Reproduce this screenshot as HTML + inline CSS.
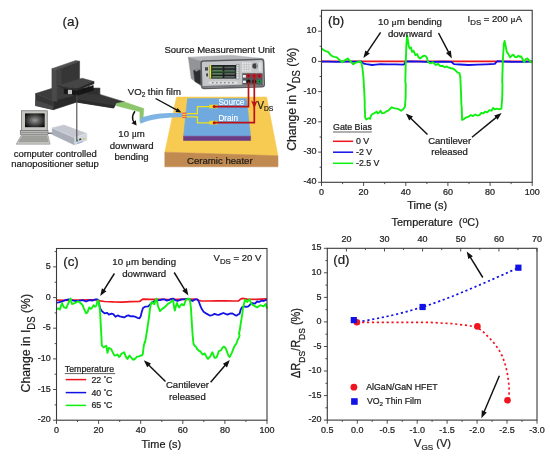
<!DOCTYPE html>
<html><head><meta charset="utf-8"><title>Figure</title>
<style>
html,body{margin:0;padding:0;background:#fff;}
body{width:550px;height:459px;overflow:hidden;}
svg{display:block;font-family:"Liberation Sans",Arial,Helvetica,sans-serif;}
text{stroke:#222;stroke-width:0.22px;paint-order:stroke;}
text.w{stroke:#fff;stroke-width:0.15px;}
</style></head><body>
<svg width="550" height="459" viewBox="0 0 550 459">
<rect x="0" y="0" width="550" height="459" fill="#ffffff"/>
<g id="panel-a">
<text transform="translate(62.6,26.4) scale(1.000,1)" font-size="13.50" text-anchor="start" fill="#1c1c1c" >(a)</text>
<polygon points="176.5,97.0 266.6,97.0 278.0,155.8 164.8,152.2" fill="#f7ca52" stroke="#f7ca52" stroke-width="0.5" stroke-linejoin="round"/>
<polygon points="164.8,152.2 278.0,155.8 278.0,166.8 164.8,166.8" fill="#c18a50" stroke="#c18a50" stroke-width="0.5" stroke-linejoin="round"/>
<polygon points="187.5,98.6 246.6,98.4 250.6,136.2 183.5,136.2" fill="#6fa9dd" stroke="#6fa9dd" stroke-width="0.5" stroke-linejoin="round"/>
<polygon points="183.5,136.2 250.6,136.2 250.6,140.5 183.5,140.5" fill="#6a3b86" stroke="#6a3b86" stroke-width="0.5" stroke-linejoin="round"/>
<path d="M186.5,113.6 H197.4 V106.6 H210 M186.5,116.8 H197.4 V122.8 H210" fill="none" stroke="#f2e21c" stroke-width="1.3"/>
<rect x="209.4" y="104.7" width="8.2" height="3.6" fill="#f2dc1c"/>
<rect x="209.4" y="120.8" width="8.2" height="3.7" fill="#f2dc1c"/>
<text transform="translate(218.4,104.6) scale(1.000,1)" font-size="8.20" text-anchor="start" fill="#ffffff" class="w">Source</text>
<text transform="translate(218.4,120.6) scale(1.000,1)" font-size="8.20" text-anchor="start" fill="#ffffff" class="w">Drain</text>
<text transform="translate(219.8,164.0) scale(1.000,1)" font-size="9.60" text-anchor="middle" fill="#1c1c1c" >Ceramic heater</text>
<text transform="translate(219.6,53.4) scale(1.000,1)" font-size="9.50" text-anchor="middle" fill="#1c1c1c" >Source Measurement Unit</text>
<polygon points="188.3,57.2 231.4,55.2 263.6,58.6 202.0,61.4" fill="#b4b6b8" stroke="#b4b6b8" stroke-width="0.5" stroke-linejoin="round"/>
<polygon points="188.3,57.2 202.0,61.4 204.0,88.2 191.2,78.6" fill="#929497" stroke="#929497" stroke-width="0.5" stroke-linejoin="round"/>
<polygon points="193.6,70.6 197.6,69.0 200.4,70.2 200.6,84.6 195.0,81.6" fill="#2c2d2f" stroke="#2c2d2f" stroke-width="0.5" stroke-linejoin="round"/>
<polygon points="194.4,69.6 197.6,68.6 199.6,69.6 196.0,71.4" fill="#8a8c8f" stroke="#8a8c8f" stroke-width="0.5" stroke-linejoin="round"/>
<g transform="rotate(-1.7 233 74)">
<rect x="201.4" y="60.2" width="62.6" height="27.4" rx="2.4" fill="#c4c6c8" stroke="#5a5c5f" stroke-width="1.5"/>
<rect x="202.6" y="85.0" width="60.2" height="2.0" fill="#77797c"/>
</g>
<rect x="209.4" y="65.0" width="26.6" height="13.6" fill="#1d2022"/>
<rect x="209.4" y="65.0" width="1.8" height="13.6" fill="#e4e44a"/>
<rect x="212.2" y="66.6" width="10.4" height="1.7" fill="#5f7d5a"/>
<rect x="224.4" y="66.6" width="10.4" height="1.7" fill="#5a635d"/>
<rect x="212.2" y="69.8" width="10.4" height="1.7" fill="#5f7d5a"/>
<rect x="224.4" y="69.8" width="10.4" height="1.7" fill="#5a635d"/>
<rect x="212.2" y="73.0" width="10.4" height="1.7" fill="#5f7d5a"/>
<rect x="224.4" y="73.0" width="10.4" height="1.7" fill="#5a635d"/>
<rect x="212.2" y="76.0" width="10.4" height="1.7" fill="#5f7d5a"/>
<rect x="224.4" y="76.0" width="10.4" height="1.7" fill="#5a635d"/>
<rect x="211.2" y="71.6" width="24.8" height="0.7" fill="#2f8c3a"/>
<rect x="205.0" y="67.2" width="3.0" height="3.4" fill="#4a4c4f"/>
<rect x="206.3" y="73.4" width="1.6" height="3.0" fill="#2e2f31"/>
<rect x="236.6" y="64.6" width="2.4" height="14.4" fill="#e2e3e4" stroke="#6c6e71" stroke-width="0.4"/>
<line x1="236.6" y1="66.4" x2="239.0" y2="66.4" stroke="#6c6e71" stroke-width="0.4"/>
<line x1="236.6" y1="68.8" x2="239.0" y2="68.8" stroke="#6c6e71" stroke-width="0.4"/>
<line x1="236.6" y1="71.2" x2="239.0" y2="71.2" stroke="#6c6e71" stroke-width="0.4"/>
<line x1="236.6" y1="73.6" x2="239.0" y2="73.6" stroke="#6c6e71" stroke-width="0.4"/>
<line x1="236.6" y1="76.0" x2="239.0" y2="76.0" stroke="#6c6e71" stroke-width="0.4"/>
<rect x="208.6" y="81.4" width="29.0" height="2.6" fill="#dcdddf"/>
<rect x="212.0" y="82.0" width="1.6" height="1.4" fill="#8c8e91"/>
<rect x="216.0" y="82.0" width="1.6" height="1.4" fill="#8c8e91"/>
<rect x="220.0" y="82.0" width="1.6" height="1.4" fill="#8c8e91"/>
<rect x="224.0" y="82.0" width="1.6" height="1.4" fill="#8c8e91"/>
<rect x="228.0" y="82.0" width="1.6" height="1.4" fill="#8c8e91"/>
<rect x="232.0" y="82.0" width="1.6" height="1.4" fill="#8c8e91"/>
<rect x="242.0" y="62.4" width="9.2" height="9.2" fill="#e6e7e8"/>
<line x1="244.3" y1="62.4" x2="244.3" y2="71.6" stroke="#a9abad" stroke-width="0.45"/>
<line x1="242.0" y1="64.7" x2="251.2" y2="64.7" stroke="#a9abad" stroke-width="0.45"/>
<line x1="246.6" y1="62.4" x2="246.6" y2="71.6" stroke="#a9abad" stroke-width="0.45"/>
<line x1="242.0" y1="67.0" x2="251.2" y2="67.0" stroke="#a9abad" stroke-width="0.45"/>
<line x1="248.9" y1="62.4" x2="248.9" y2="71.6" stroke="#a9abad" stroke-width="0.45"/>
<line x1="242.0" y1="69.3" x2="251.2" y2="69.3" stroke="#a9abad" stroke-width="0.45"/>
<circle cx="255.0" cy="66.0" r="2.7" fill="#3f4143"/>
<path d="M255.6,63.5 A2.6,2.6 0 0 1 255.6,68.5 A3.4,3.4 0 0 0 255.6,63.5Z" fill="#e3e4e5"/>
<rect x="258.6" y="62.4" width="3.0" height="9.0" fill="#dedfe0"/>
<rect x="242.3" y="73.3" width="20.4" height="11.4" fill="#535558"/>
<rect x="242.9" y="75.0" width="3.0" height="2.6" fill="#ecedee"/>
<rect x="242.9" y="80.6" width="3.0" height="2.4" fill="#ecedee"/>
<circle cx="248.5" cy="75.8" r="2.2" fill="#c21a2a"/>
<circle cx="248.5" cy="75.8" r="0.9" fill="#6e0f18"/>
<circle cx="254.2" cy="75.8" r="2.2" fill="#c21a2a"/>
<circle cx="254.2" cy="75.8" r="0.9" fill="#6e0f18"/>
<circle cx="259.4" cy="75.8" r="2.2" fill="#c21a2a"/>
<circle cx="259.4" cy="75.8" r="0.9" fill="#6e0f18"/>
<circle cx="248.5" cy="81.5" r="2.1" fill="#1a1b1d"/>
<circle cx="248.5" cy="81.5" r="0.9" fill="#000"/>
<circle cx="254.2" cy="81.5" r="2.1" fill="#1a1b1d"/>
<circle cx="254.2" cy="81.5" r="0.9" fill="#000"/>
<circle cx="259.4" cy="81.5" r="2.1" fill="#1e9c4a"/>
<circle cx="259.4" cy="81.5" r="0.9" fill="#0c4a22"/>
<path d="M248.5,81.6 V106.6 H214.4 M254.3,75.8 V122.7 H214.4" fill="none" stroke="#bd1119" stroke-width="1.7"/>
<polygon points="251.1,100.6 254.3,102.4 257.5,100.6 254.3,108.6" fill="#bd1119"/>
<circle cx="214.2" cy="106.6" r="1.5" fill="#bd1119"/>
<circle cx="214.2" cy="122.7" r="1.5" fill="#bd1119"/>
<text transform="translate(257.2,108.6) scale(1.000,1)" font-size="10.20" text-anchor="start" fill="#1c1c1c" >V<tspan font-size="66%" dy="2.4">DS</tspan></text>
<polygon points="35.5,93.6 53.0,88.0 100.0,88.0 100.0,96.0 78.0,97.0 53.5,101.3" fill="#3c3c3d" stroke="#3c3c3d" stroke-width="0.5" stroke-linejoin="round"/>
<polygon points="35.5,93.6 53.5,101.3 53.5,109.7 35.5,105.6" fill="#363637" stroke="#363637" stroke-width="0.5" stroke-linejoin="round"/>
<polygon points="35.5,100.4 53.5,106.6 53.5,109.7 35.5,105.6" fill="#48484a" stroke="#48484a" stroke-width="0.5" stroke-linejoin="round"/>
<polygon points="53.5,101.3 77.3,95.3 77.3,101.9 53.5,109.7" fill="#29292a" stroke="#29292a" stroke-width="0.5" stroke-linejoin="round"/>
<polygon points="77.0,92.0 98.4,93.9 124.5,101.9 116.5,103.6 113.6,108.0 77.3,102.2" fill="#373738" stroke="#373738" stroke-width="0.5" stroke-linejoin="round"/>
<polygon points="77.3,99.8 114.8,105.8 113.6,108.0 77.3,102.2" fill="#2a2a2b" stroke="#2a2a2b" stroke-width="0.5" stroke-linejoin="round"/>
<polygon points="88.0,86.5 91.8,88.1 98.4,89.5 98.4,93.9 88.0,93.9" fill="#2f2f30" stroke="#2f2f30" stroke-width="0.5" stroke-linejoin="round"/>
<polygon points="51.9,68.7 56.8,70.0 56.8,101.6 51.9,100.4" fill="#4a4a4b" stroke="#4a4a4b" stroke-width="0.5" stroke-linejoin="round"/>
<polygon points="51.9,68.7 75.7,60.5 79.6,61.3 56.8,70.0" fill="#505051" stroke="#505051" stroke-width="0.5" stroke-linejoin="round"/>
<polygon points="56.8,70.0 79.6,61.3 79.6,80.5 56.8,87.6" fill="#363637" stroke="#363637" stroke-width="0.5" stroke-linejoin="round"/>
<polygon points="56.8,70.0 61.2,68.4 61.2,86.4 56.8,87.6" fill="#414142" stroke="#414142" stroke-width="0.5" stroke-linejoin="round"/>
<polygon points="64.2,87.8 77.0,90.3 93.3,85.4 93.3,90.4 77.0,95.4 64.2,93.6" fill="#161617" stroke="#161617" stroke-width="0.5" stroke-linejoin="round"/>
<rect x="67.9" y="89.6" width="4.1" height="4.6" fill="#c4c4c4"/>
<polygon points="58.1,85.7 82.2,78.2 94.0,81.5 92.0,84.2 77.0,88.8" fill="#454546" stroke="#454546" stroke-width="0.5" stroke-linejoin="round"/>
<polygon points="58.1,85.7 77.0,88.8 77.0,90.4 58.1,87.4" fill="#2f2f30" stroke="#2f2f30" stroke-width="0.5" stroke-linejoin="round"/>
<polygon points="77.0,88.8 94.0,81.5 94.0,83.8 77.0,90.6" fill="#29292a" stroke="#29292a" stroke-width="0.5" stroke-linejoin="round"/>
<polygon points="124.5,101.9 143.8,108.6 142.8,122.4 139.9,122.0 139.9,111.8 116.3,105.8 116.5,103.4" fill="#8cc56a" stroke="#8cc56a" stroke-width="0.5" stroke-linejoin="round"/>
<path d="M140.4,118.0 C152,113.6 166,112.6 184.3,113.2 L184.3,117.2 C166,117.2 152,118.6 140.4,123.8 Z" fill="#7fb3e3"/>
<rect x="182.2" y="112.6" width="4.2" height="5.4" fill="#e6584a"/>
<rect x="182.2" y="113.8" width="4.2" height="1.2" fill="#f4d23c"/>
<rect x="182.2" y="116.0" width="4.2" height="1.0" fill="#f4d23c"/>
<path d="M134.9,111.2 C132.0,115.4 131.8,119.4 134.2,122.6" fill="none" stroke="#111" stroke-width="1.5"/>
<polygon points="136.6,125.6 131.4,123.2 135.8,120.2" fill="#111"/>
<text transform="translate(127.8,94.8) scale(1.000,1)" font-size="9.60" text-anchor="start" fill="#1c1c1c" >VO<tspan font-size="66%" dy="2.0">2</tspan><tspan dy="-2.0"> thin film</tspan></text>
<line x1="155.6" y1="98.5" x2="177.5" y2="110.4" stroke="#111" stroke-width="1.40"/>
<polygon points="181.4,112.6 175.5,111.9 177.6,108.0" fill="#111"/>
<text transform="translate(131.6,137.4) scale(1.000,1)" font-size="9.60" text-anchor="middle" fill="#1c1c1c" >10 <tspan font-family="Liberation Serif,serif">&#956;</tspan>m</text>
<text transform="translate(131.6,148.5) scale(1.000,1)" font-size="9.60" text-anchor="middle" fill="#1c1c1c" >downward</text>
<text transform="translate(131.6,159.6) scale(1.000,1)" font-size="9.60" text-anchor="middle" fill="#1c1c1c" >bending</text>
<defs><radialGradient id="scr" cx="50%" cy="50%" r="60%"><stop offset="0" stop-color="#9a9a9a"/><stop offset="0.55" stop-color="#4a4a4a"/><stop offset="1" stop-color="#0c0c0c"/></radialGradient></defs>
<rect x="21.6" y="110.8" width="25.6" height="19.6" fill="#c6c6c3" stroke="#4e4e4c" stroke-width="0.6"/>
<rect x="25.0" y="113.4" width="19.7" height="13.8" fill="url(#scr)"/>
<rect x="20.2" y="130.4" width="27.8" height="4.2" fill="#b9b9b6" stroke="#5a5a58" stroke-width="0.5"/>
<line x1="20.6" y1="132.6" x2="47.6" y2="132.6" stroke="#6a6a68" stroke-width="0.5"/>
<polygon points="21.1,135.3 48.0,135.3 50.1,144.3 16.2,144.3" fill="#c4c4c1" stroke="#6a6a68" stroke-width="0.4"/>
<polygon points="22.0,136.4 46.9,136.4 48.0,141.6 19.2,141.6" fill="#8e8e8b" stroke="#8e8e8b" stroke-width="0.5" stroke-linejoin="round"/>
<line x1="20.5" y1="137.7" x2="47.6" y2="137.7" stroke="#c9c9c6" stroke-width="0.4"/>
<line x1="20.5" y1="139.0" x2="47.6" y2="139.0" stroke="#c9c9c6" stroke-width="0.4"/>
<line x1="20.5" y1="140.3" x2="47.6" y2="140.3" stroke="#c9c9c6" stroke-width="0.4"/>
<line x1="48.0" y1="133.2" x2="52.8" y2="133.2" stroke="#222" stroke-width="0.9"/>
<polygon points="52.2,127.9 64.0,125.0 86.9,133.6 74.6,137.7" fill="#c4c7cf" stroke="#c4c7cf" stroke-width="0.5" stroke-linejoin="round"/>
<polygon points="52.2,127.9 74.6,137.7 74.6,145.1 52.2,134.5" fill="#a9adb8" stroke="#a9adb8" stroke-width="0.5" stroke-linejoin="round"/>
<polygon points="74.6,137.7 86.9,133.6 86.9,140.2 74.6,145.1" fill="#d3d6de" stroke="#d3d6de" stroke-width="0.5" stroke-linejoin="round"/>
<path d="M52.2,127.9 L74.6,137.7 L86.9,133.6" fill="none" stroke="#e6e8ee" stroke-width="0.6"/>
<rect x="76.2" y="140.0" width="2.0" height="1.6" fill="#2c8c4c" transform="rotate(-18 77 141)"/>
<rect x="79.0" y="138.6" width="2.2" height="1.6" fill="#3a3a3a" transform="rotate(-18 80 139)"/>
<rect x="82.6" y="138.4" width="3.0" height="1.0" fill="#d8c060" transform="rotate(-18 84 139)"/>
<rect x="77.0" y="142.2" width="6.0" height="0.9" fill="#8fa6d8" transform="rotate(-20 80 142.6)"/>
<line x1="76.8" y1="94.6" x2="76.8" y2="140.2" stroke="#4a4a4b" stroke-width="1.1"/>
<text transform="translate(55.2,156.6) scale(1.000,1)" font-size="9.45" text-anchor="middle" fill="#1c1c1c" >computer controlled</text>
<text transform="translate(55.0,167.2) scale(1.000,1)" font-size="9.45" text-anchor="middle" fill="#1c1c1c" >nanopositioner setup</text>
</g>
<g id="panel-b">
<path d="M321.5,61.3 L532.2,61.3" fill="none" stroke="#f0141e" stroke-width="1.7"/>
<path d="M321.1,61.6 L328.1,61.7 L336.8,61.9 L345.5,61.6 L354.3,61.7 L361.7,61.7 L362.8,63.0 L363.9,63.7 L366.5,64.2 L372.2,65.0 L375.7,64.6 L380.5,64.2 L387.0,64.3 L395.7,64.3 L403.2,64.6 L404.7,63.9 L405.6,61.5 L411.0,61.5 L419.7,61.7 L425.0,61.8 L425.0,61.8 L433.7,61.8 L442.5,61.7 L451.2,61.8 L452.7,63.0 L454.0,64.1 L459.9,64.5 L468.6,65.0 L477.4,64.6 L486.1,64.3 L494.8,63.9 L496.1,62.2 L497.4,61.2 L503.6,61.7 L512.3,61.8 L521.0,61.8 L531.9,61.7" fill="none" stroke="#1212e6" stroke-width="1.8" stroke-linejoin="round"/>
<path d="M321.5,48.6 L324.8,50.8 L328.1,51.9 L330.3,54.7 L332.5,56.3 L334.6,56.9 L336.8,57.4 L339.0,59.5 L342.3,62.2 L344.5,60.6 L347.7,58.5 L349.9,60.6 L353.2,64.3 L355.4,62.8 L357.5,62.2 L359.7,61.3 L361.3,62.8 L362.3,67.2 L363.4,77.0 L364.3,92.3 L364.7,101.0 L364.7,106.8 L365.2,117.7 L366.3,119.5 L368.5,118.2 L370.0,118.8 L371.3,115.1 L372.8,113.8 L375.0,112.9 L376.5,111.6 L377.8,113.4 L379.4,112.3 L380.5,110.7 L382.2,113.4 L384.4,112.9 L385.9,111.6 L388.1,110.7 L390.3,108.6 L391.8,107.3 L394.0,108.1 L396.8,108.6 L399.0,109.4 L401.2,110.7 L403.4,109.0 L404.9,106.8 L405.6,98.1 L405.8,85.0 L405.3,81.4 L405.8,61.7 L406.4,44.3 L407.1,35.5 L408.0,41.0 L408.8,46.5 L409.9,48.6 L411.0,47.5 L412.1,51.9 L413.6,50.8 L415.4,55.2 L417.1,54.1 L418.6,57.4 L420.2,58.5 L421.9,56.9 L424.1,55.6 L425.0,55.6 L426.7,57.4 L428.3,62.2 L430.5,63.5 L432.6,62.2 L435.9,65.0 L438.1,63.9 L440.3,66.1 L442.5,65.7 L444.6,67.2 L446.8,66.5 L449.0,67.8 L451.2,68.3 L453.4,68.7 L455.5,70.5 L457.7,72.6 L459.5,73.1 L460.3,77.0 L461.0,92.3 L461.4,104.9 L461.7,106.8 L462.1,119.9 L464.3,118.8 L466.5,117.3 L468.6,116.6 L470.8,115.1 L473.0,116.0 L475.2,114.5 L477.4,115.5 L479.5,115.1 L481.3,112.9 L483.5,113.4 L485.0,111.6 L487.2,112.3 L489.4,110.1 L491.6,110.7 L493.1,107.9 L494.8,109.4 L497.0,108.6 L499.2,109.4 L501.4,108.6 L502.2,98.1 L502.5,85.0 L502.2,81.4 L502.9,59.5 L503.8,44.3 L504.6,41.0 L505.7,46.5 L506.8,51.9 L508.4,54.1 L510.1,57.4 L511.8,55.6 L513.4,54.7 L514.9,56.9 L516.6,57.4 L518.4,55.6 L519.9,56.9 L521.0,56.3 L522.8,59.5 L524.3,62.2 L525.8,59.1 L527.6,58.5 L529.3,60.6 L530.8,62.2 L531.9,61.3" fill="none" stroke="#10f010" stroke-width="1.9" stroke-linejoin="round"/>
<rect x="321.5" y="10.3" width="210.7" height="172.0" fill="none" stroke="#3a3a3a" stroke-width="1.1"/>
<line x1="321.5" y1="182.3" x2="321.5" y2="186.0" stroke="#3a3a3a" stroke-width="0.9"/>
<line x1="363.6" y1="182.3" x2="363.6" y2="186.0" stroke="#3a3a3a" stroke-width="0.9"/>
<line x1="405.8" y1="182.3" x2="405.8" y2="186.0" stroke="#3a3a3a" stroke-width="0.9"/>
<line x1="447.9" y1="182.3" x2="447.9" y2="186.0" stroke="#3a3a3a" stroke-width="0.9"/>
<line x1="490.1" y1="182.3" x2="490.1" y2="186.0" stroke="#3a3a3a" stroke-width="0.9"/>
<line x1="532.2" y1="182.3" x2="532.2" y2="186.0" stroke="#3a3a3a" stroke-width="0.9"/>
<line x1="342.6" y1="182.3" x2="342.6" y2="184.1" stroke="#3a3a3a" stroke-width="0.9"/>
<line x1="384.7" y1="182.3" x2="384.7" y2="184.1" stroke="#3a3a3a" stroke-width="0.9"/>
<line x1="426.9" y1="182.3" x2="426.9" y2="184.1" stroke="#3a3a3a" stroke-width="0.9"/>
<line x1="469.0" y1="182.3" x2="469.0" y2="184.1" stroke="#3a3a3a" stroke-width="0.9"/>
<line x1="511.1" y1="182.3" x2="511.1" y2="184.1" stroke="#3a3a3a" stroke-width="0.9"/>
<line x1="321.5" y1="31.2" x2="318.1" y2="31.2" stroke="#3a3a3a" stroke-width="0.9"/>
<line x1="321.5" y1="61.4" x2="318.1" y2="61.4" stroke="#3a3a3a" stroke-width="0.9"/>
<line x1="321.5" y1="91.6" x2="318.1" y2="91.6" stroke="#3a3a3a" stroke-width="0.9"/>
<line x1="321.5" y1="121.8" x2="318.1" y2="121.8" stroke="#3a3a3a" stroke-width="0.9"/>
<line x1="321.5" y1="152.1" x2="318.1" y2="152.1" stroke="#3a3a3a" stroke-width="0.9"/>
<line x1="321.5" y1="182.3" x2="318.1" y2="182.3" stroke="#3a3a3a" stroke-width="0.9"/>
<line x1="321.5" y1="16.1" x2="319.6" y2="16.1" stroke="#3a3a3a" stroke-width="0.9"/>
<line x1="321.5" y1="46.3" x2="319.6" y2="46.3" stroke="#3a3a3a" stroke-width="0.9"/>
<line x1="321.5" y1="76.5" x2="319.6" y2="76.5" stroke="#3a3a3a" stroke-width="0.9"/>
<line x1="321.5" y1="106.7" x2="319.6" y2="106.7" stroke="#3a3a3a" stroke-width="0.9"/>
<line x1="321.5" y1="137.0" x2="319.6" y2="137.0" stroke="#3a3a3a" stroke-width="0.9"/>
<line x1="321.5" y1="167.2" x2="319.6" y2="167.2" stroke="#3a3a3a" stroke-width="0.9"/>
<text transform="translate(321.5,194.5) scale(1.060,1)" font-size="8.50" text-anchor="middle" fill="#1c1c1c" >0</text>
<text transform="translate(363.6,194.5) scale(1.060,1)" font-size="8.50" text-anchor="middle" fill="#1c1c1c" >20</text>
<text transform="translate(405.8,194.5) scale(1.060,1)" font-size="8.50" text-anchor="middle" fill="#1c1c1c" >40</text>
<text transform="translate(447.9,194.5) scale(1.060,1)" font-size="8.50" text-anchor="middle" fill="#1c1c1c" >60</text>
<text transform="translate(490.1,194.5) scale(1.060,1)" font-size="8.50" text-anchor="middle" fill="#1c1c1c" >80</text>
<text transform="translate(532.2,194.5) scale(1.060,1)" font-size="8.50" text-anchor="middle" fill="#1c1c1c" >100</text>
<text transform="translate(316.4,33.2) scale(1.060,1)" font-size="8.50" text-anchor="end" fill="#1c1c1c" >10</text>
<text transform="translate(316.4,63.4) scale(1.060,1)" font-size="8.50" text-anchor="end" fill="#1c1c1c" >0</text>
<text transform="translate(316.4,93.6) scale(1.060,1)" font-size="8.50" text-anchor="end" fill="#1c1c1c" >-10</text>
<text transform="translate(316.4,123.8) scale(1.060,1)" font-size="8.50" text-anchor="end" fill="#1c1c1c" >-20</text>
<text transform="translate(316.4,154.1) scale(1.060,1)" font-size="8.50" text-anchor="end" fill="#1c1c1c" >-30</text>
<text transform="translate(316.4,184.3) scale(1.060,1)" font-size="8.50" text-anchor="end" fill="#1c1c1c" >-40</text>
<text transform="translate(427.2,208.6) scale(1.060,1)" font-size="10.40" text-anchor="middle" fill="#1c1c1c" >Time (s)</text>
<text transform="translate(435.2,225.8) scale(1.060,1)" font-size="10.30" text-anchor="middle" fill="#1c1c1c" >Temperature&#160;&#160;(<tspan font-size="80%" dy="-3.0">o</tspan><tspan dy="3.0">C)</tspan></text>
<text transform="translate(295.6,99.2) scale(1.060,1) rotate(-90)" font-size="12.30" text-anchor="middle" fill="#1c1c1c">Change in V<tspan font-size="77%" dy="4.2">DS</tspan><tspan dy="-4.2"> (%)</tspan></text>
<text transform="translate(328.0,25.0) scale(1.060,1)" font-size="12.60" text-anchor="start" fill="#1c1c1c" >(b)</text>
<text transform="translate(410.0,25.0) scale(1.060,1)" font-size="9.15" text-anchor="middle" fill="#1c1c1c" >10 <tspan font-family="Liberation Serif,serif">&#956;</tspan>m bending</text>
<text transform="translate(410.0,37.0) scale(1.060,1)" font-size="9.15" text-anchor="middle" fill="#1c1c1c" >downward</text>
<text transform="translate(467.6,22.0) scale(1.060,1)" font-size="9.00" text-anchor="start" fill="#1c1c1c" >I<tspan font-size="82%" dy="2.8">DS</tspan><tspan dy="-2.8"> = 200 </tspan><tspan font-family="Liberation Serif,serif">&#956;</tspan>A</text>
<text transform="translate(449.6,144.0) scale(1.060,1)" font-size="9.00" text-anchor="middle" fill="#1c1c1c" >Cantilever</text>
<text transform="translate(449.6,155.4) scale(1.060,1)" font-size="9.00" text-anchor="middle" fill="#1c1c1c" >released</text>
<line x1="380.6" y1="32.4" x2="367.0" y2="52.7" stroke="#111" stroke-width="1.45"/>
<polygon points="363.4,58.0 365.3,50.4 369.8,53.4" fill="#111"/>
<line x1="438.5" y1="33.0" x2="448.8" y2="52.7" stroke="#111" stroke-width="1.45"/>
<polygon points="451.8,58.4 446.0,53.1 450.8,50.6" fill="#111"/>
<line x1="427.5" y1="134.6" x2="410.4" y2="117.9" stroke="#111" stroke-width="1.45"/>
<polygon points="405.8,113.4 413.0,116.6 409.2,120.5" fill="#111"/>
<line x1="472.0" y1="137.2" x2="496.6" y2="117.1" stroke="#111" stroke-width="1.45"/>
<polygon points="501.6,113.0 497.6,119.8 494.2,115.6" fill="#111"/>
<text transform="translate(333.0,130.3) scale(1.060,1)" font-size="8.35" text-anchor="start" fill="#1c1c1c" >Gate Bias</text>
<line x1="333" y1="132.0" x2="371.8" y2="132.0" stroke="#1c1c1c" stroke-width="0.7"/>
<line x1="333" y1="141.3" x2="353.2" y2="141.3" stroke="#f0141e" stroke-width="1.5"/>
<text transform="translate(356.0,144.2) scale(1.060,1)" font-size="8.30" text-anchor="start" fill="#1c1c1c" >0 V</text>
<line x1="333" y1="152.2" x2="353.2" y2="152.2" stroke="#1212e6" stroke-width="1.5"/>
<text transform="translate(356.0,155.1) scale(1.060,1)" font-size="8.30" text-anchor="start" fill="#1c1c1c" >-2 V</text>
<line x1="333" y1="163.3" x2="353.2" y2="163.3" stroke="#10f010" stroke-width="1.5"/>
<text transform="translate(356.0,166.2) scale(1.060,1)" font-size="8.30" text-anchor="start" fill="#1c1c1c" >-2.5 V</text>
</g>
<g id="panel-c">
<path d="M56.1,300.2 L63.1,300.4 L71.8,300.2 L80.5,300.2 L89.3,299.9 L96.9,299.9 L100.2,300.8 L104.5,301.5 L113.3,301.9 L122.0,302.1 L130.7,301.7 L139.5,301.5 L141.2,300.2 L143.0,299.1 L150.4,299.3 L160.0,299.3 L160.0,299.3 L168.7,299.5 L177.5,299.3 L186.2,299.1 L197.1,299.3 L198.8,300.2 L200.6,300.8 L208.0,301.0 L216.7,300.8 L225.5,300.8 L234.2,301.0 L238.6,300.8 L240.3,299.3 L242.0,298.4 L247.3,299.1 L256.0,299.3 L266.9,298.9" fill="none" stroke="#f0141e" stroke-width="1.7" stroke-linejoin="round"/>
<path d="M56.1,302.6 L58.7,302.3 L62.0,301.5 L65.3,300.2 L68.5,299.3 L71.8,300.2 L75.1,301.0 L78.4,300.8 L82.7,300.2 L86.0,301.5 L89.3,300.2 L92.5,300.6 L95.4,299.3 L97.6,299.3 L98.9,303.0 L100.2,308.5 L101.9,311.1 L104.5,313.3 L107.2,312.8 L108.9,314.6 L111.5,313.7 L113.3,314.1 L115.5,316.8 L117.6,315.4 L119.8,316.3 L122.0,316.8 L124.2,317.4 L126.4,315.9 L128.6,315.4 L130.7,316.3 L132.9,316.1 L135.5,316.8 L137.3,317.8 L139.5,318.3 L140.8,316.1 L141.6,312.4 L143.0,308.0 L145.1,306.7 L148.2,306.3 L150.4,304.1 L152.6,301.9 L155.8,300.8 L159.1,300.2 L160.0,300.2 L162.2,299.3 L164.4,299.3 L166.5,300.6 L168.7,300.2 L170.9,298.9 L173.1,298.6 L175.3,300.2 L177.5,301.0 L179.6,300.2 L181.8,299.3 L185.1,299.1 L188.4,298.6 L190.5,300.2 L192.7,301.0 L194.9,299.3 L197.1,299.3 L198.8,301.5 L200.1,305.2 L201.5,308.5 L203.6,311.7 L206.9,313.9 L210.2,315.7 L212.4,315.0 L214.5,313.9 L216.7,314.6 L218.9,314.8 L221.1,313.9 L223.3,313.0 L225.5,313.9 L227.6,314.6 L229.8,313.7 L232.0,313.3 L234.2,314.6 L236.4,315.7 L238.1,314.6 L239.6,313.7 L240.7,309.6 L242.0,307.2 L244.0,306.3 L246.2,306.9 L248.4,306.3 L250.6,304.1 L252.7,303.2 L254.9,303.7 L257.1,301.5 L259.3,301.9 L261.5,300.6 L263.6,301.0 L266.9,299.7" fill="none" stroke="#1212e6" stroke-width="1.8" stroke-linejoin="round"/>
<path d="M56.1,308.9 L58.3,308.5 L59.8,309.6 L60.9,306.3 L62.0,303.0 L63.1,305.8 L64.2,307.4 L66.4,308.0 L67.5,305.2 L68.5,303.0 L69.6,300.2 L70.7,298.6 L71.8,303.7 L73.6,303.7 L75.1,303.0 L76.6,301.9 L78.4,301.5 L80.5,303.0 L82.7,305.2 L83.8,308.5 L84.9,310.6 L86.2,313.3 L87.5,312.4 L89.3,307.4 L90.6,308.9 L91.9,308.0 L93.6,305.2 L94.9,306.7 L96.3,305.8 L97.3,301.5 L98.2,300.2 L99.1,304.1 L100.0,310.6 L100.6,321.6 L101.3,334.6 L101.7,342.9 L101.9,345.7 L103.5,347.3 L104.5,346.8 L106.3,345.7 L107.4,352.9 L108.3,349.4 L108.9,347.9 L111.1,349.0 L112.4,351.6 L113.3,353.4 L114.6,355.5 L116.3,355.1 L117.6,354.5 L119.0,356.9 L119.8,356.6 L121.1,354.2 L122.0,353.4 L123.3,352.9 L124.2,352.3 L125.3,355.5 L126.4,357.7 L127.5,359.0 L128.6,356.9 L129.6,355.5 L131.2,357.7 L132.9,359.5 L134.2,359.5 L135.1,358.8 L136.4,357.3 L137.3,356.6 L139.0,356.4 L140.6,355.5 L141.6,355.5 L142.7,354.5 L143.4,349.0 L143.8,345.7 L144.9,341.4 L145.1,342.3 L146.0,336.8 L147.1,330.3 L148.2,322.6 L149.3,315.0 L149.9,309.6 L150.4,306.3 L151.2,303.0 L152.1,301.9 L153.4,303.7 L154.3,304.1 L155.6,300.2 L156.5,298.6 L157.4,303.0 L158.0,306.3 L159.1,308.9 L160.0,311.1 L162.2,308.9 L164.4,307.4 L166.1,305.8 L167.6,304.1 L169.2,303.2 L170.9,301.9 L172.2,300.6 L173.1,300.2 L174.0,306.3 L174.8,310.6 L175.9,306.3 L177.0,303.0 L178.1,305.8 L179.2,307.4 L180.5,305.4 L181.8,304.1 L182.9,305.0 L184.0,305.2 L185.1,301.9 L186.2,299.7 L187.9,298.9 L189.5,298.6 L190.3,303.0 L191.0,308.5 L191.6,319.4 L192.3,330.3 L192.7,335.9 L193.2,341.4 L193.8,344.6 L194.9,345.9 L196.0,346.8 L197.1,349.0 L198.2,350.1 L199.3,351.2 L200.4,351.2 L201.5,352.9 L202.5,354.5 L203.6,354.2 L204.7,353.4 L205.8,355.5 L206.9,357.7 L208.0,359.0 L209.1,357.7 L210.2,356.6 L211.3,354.2 L212.4,352.3 L213.5,355.1 L214.5,357.7 L215.6,357.7 L216.7,357.3 L217.8,354.2 L218.9,351.2 L220.0,350.7 L221.1,350.1 L222.2,348.1 L223.3,346.8 L224.4,346.8 L225.5,347.9 L226.6,350.7 L227.6,353.4 L228.7,356.0 L229.8,356.9 L230.9,354.7 L232.0,352.3 L233.1,349.4 L234.2,346.8 L235.3,345.1 L236.4,343.5 L237.5,340.3 L238.6,338.1 L239.6,335.5 L239.0,333.6 L239.9,329.2 L240.7,323.7 L241.8,317.2 L242.5,312.4 L242.9,308.5 L244.0,303.7 L245.1,299.7 L246.2,301.0 L247.3,301.9 L248.4,300.2 L249.5,299.3 L250.6,301.9 L251.6,304.1 L252.7,305.0 L253.8,305.2 L255.6,306.7 L257.1,307.4 L258.6,306.3 L260.4,305.2 L262.1,305.8 L263.6,306.3 L264.7,305.0 L265.8,304.1 L266.5,306.7 L266.9,308.5" fill="none" stroke="#10f010" stroke-width="1.9" stroke-linejoin="round"/>
<rect x="56.5" y="248.5" width="210.5" height="171.7" fill="none" stroke="#3a3a3a" stroke-width="1.1"/>
<line x1="56.5" y1="420.2" x2="56.5" y2="423.9" stroke="#3a3a3a" stroke-width="0.9"/>
<line x1="98.6" y1="420.2" x2="98.6" y2="423.9" stroke="#3a3a3a" stroke-width="0.9"/>
<line x1="140.7" y1="420.2" x2="140.7" y2="423.9" stroke="#3a3a3a" stroke-width="0.9"/>
<line x1="182.8" y1="420.2" x2="182.8" y2="423.9" stroke="#3a3a3a" stroke-width="0.9"/>
<line x1="224.9" y1="420.2" x2="224.9" y2="423.9" stroke="#3a3a3a" stroke-width="0.9"/>
<line x1="267.0" y1="420.2" x2="267.0" y2="423.9" stroke="#3a3a3a" stroke-width="0.9"/>
<line x1="77.5" y1="420.2" x2="77.5" y2="422.0" stroke="#3a3a3a" stroke-width="0.9"/>
<line x1="119.7" y1="420.2" x2="119.7" y2="422.0" stroke="#3a3a3a" stroke-width="0.9"/>
<line x1="161.8" y1="420.2" x2="161.8" y2="422.0" stroke="#3a3a3a" stroke-width="0.9"/>
<line x1="203.8" y1="420.2" x2="203.8" y2="422.0" stroke="#3a3a3a" stroke-width="0.9"/>
<line x1="245.9" y1="420.2" x2="245.9" y2="422.0" stroke="#3a3a3a" stroke-width="0.9"/>
<line x1="56.5" y1="266.9" x2="53.1" y2="266.9" stroke="#3a3a3a" stroke-width="0.9"/>
<line x1="56.5" y1="297.6" x2="53.1" y2="297.6" stroke="#3a3a3a" stroke-width="0.9"/>
<line x1="56.5" y1="328.2" x2="53.1" y2="328.2" stroke="#3a3a3a" stroke-width="0.9"/>
<line x1="56.5" y1="358.9" x2="53.1" y2="358.9" stroke="#3a3a3a" stroke-width="0.9"/>
<line x1="56.5" y1="389.5" x2="53.1" y2="389.5" stroke="#3a3a3a" stroke-width="0.9"/>
<line x1="56.5" y1="420.2" x2="53.1" y2="420.2" stroke="#3a3a3a" stroke-width="0.9"/>
<line x1="56.5" y1="251.6" x2="54.6" y2="251.6" stroke="#3a3a3a" stroke-width="0.9"/>
<line x1="56.5" y1="282.2" x2="54.6" y2="282.2" stroke="#3a3a3a" stroke-width="0.9"/>
<line x1="56.5" y1="312.9" x2="54.6" y2="312.9" stroke="#3a3a3a" stroke-width="0.9"/>
<line x1="56.5" y1="343.6" x2="54.6" y2="343.6" stroke="#3a3a3a" stroke-width="0.9"/>
<line x1="56.5" y1="374.2" x2="54.6" y2="374.2" stroke="#3a3a3a" stroke-width="0.9"/>
<line x1="56.5" y1="404.9" x2="54.6" y2="404.9" stroke="#3a3a3a" stroke-width="0.9"/>
<text transform="translate(56.5,433.4) scale(1.060,1)" font-size="8.50" text-anchor="middle" fill="#1c1c1c" >0</text>
<text transform="translate(98.6,433.4) scale(1.060,1)" font-size="8.50" text-anchor="middle" fill="#1c1c1c" >20</text>
<text transform="translate(140.7,433.4) scale(1.060,1)" font-size="8.50" text-anchor="middle" fill="#1c1c1c" >40</text>
<text transform="translate(182.8,433.4) scale(1.060,1)" font-size="8.50" text-anchor="middle" fill="#1c1c1c" >60</text>
<text transform="translate(224.9,433.4) scale(1.060,1)" font-size="8.50" text-anchor="middle" fill="#1c1c1c" >80</text>
<text transform="translate(267.0,433.4) scale(1.060,1)" font-size="8.50" text-anchor="middle" fill="#1c1c1c" >100</text>
<text transform="translate(50.7,268.9) scale(1.060,1)" font-size="8.50" text-anchor="end" fill="#1c1c1c" >5</text>
<text transform="translate(50.7,299.6) scale(1.060,1)" font-size="8.50" text-anchor="end" fill="#1c1c1c" >0</text>
<text transform="translate(50.7,330.2) scale(1.060,1)" font-size="8.50" text-anchor="end" fill="#1c1c1c" >-5</text>
<text transform="translate(50.7,360.9) scale(1.060,1)" font-size="8.50" text-anchor="end" fill="#1c1c1c" >-10</text>
<text transform="translate(50.7,391.5) scale(1.060,1)" font-size="8.50" text-anchor="end" fill="#1c1c1c" >-15</text>
<text transform="translate(50.7,422.2) scale(1.060,1)" font-size="8.50" text-anchor="end" fill="#1c1c1c" >-20</text>
<text transform="translate(161.4,448.4) scale(1.060,1)" font-size="10.30" text-anchor="middle" fill="#1c1c1c" >Time (s)</text>
<text transform="translate(30.2,343.2) scale(1.060,1) rotate(-90)" font-size="12.30" text-anchor="middle" fill="#1c1c1c">Change in I<tspan font-size="77%" dy="4.2">DS</tspan><tspan dy="-4.2"> (%)</tspan></text>
<text transform="translate(63.2,265.9) scale(1.060,1)" font-size="12.60" text-anchor="start" fill="#1c1c1c" >(c)</text>
<text transform="translate(144.2,264.8) scale(1.060,1)" font-size="9.15" text-anchor="middle" fill="#1c1c1c" >10 <tspan font-family="Liberation Serif,serif">&#956;</tspan>m bending</text>
<text transform="translate(144.2,276.8) scale(1.060,1)" font-size="9.15" text-anchor="middle" fill="#1c1c1c" >downward</text>
<text transform="translate(213.6,261.4) scale(1.060,1)" font-size="9.00" text-anchor="start" fill="#1c1c1c" >V<tspan font-size="82%" dy="2.8">DS</tspan><tspan dy="-2.8"> = 20 V</tspan></text>
<text transform="translate(187.4,388.4) scale(1.060,1)" font-size="9.00" text-anchor="middle" fill="#1c1c1c" >Cantilever</text>
<text transform="translate(187.4,399.8) scale(1.060,1)" font-size="9.00" text-anchor="middle" fill="#1c1c1c" >released</text>
<line x1="114.4" y1="273.5" x2="103.6" y2="290.6" stroke="#111" stroke-width="1.45"/>
<polygon points="100.2,296.0 101.9,288.3 106.4,291.2" fill="#111"/>
<line x1="174.2" y1="272.5" x2="185.0" y2="290.1" stroke="#111" stroke-width="1.45"/>
<polygon points="188.4,295.6 182.2,290.7 186.8,287.9" fill="#111"/>
<line x1="165.5" y1="381.4" x2="148.4" y2="364.7" stroke="#111" stroke-width="1.45"/>
<polygon points="143.8,360.2 151.0,363.4 147.2,367.3" fill="#111"/>
<line x1="210.6" y1="382.2" x2="225.6" y2="364.8" stroke="#111" stroke-width="1.45"/>
<polygon points="229.8,360.0 227.0,367.4 222.9,363.8" fill="#111"/>
<text transform="translate(64.8,372.0) scale(1.060,1)" font-size="8.30" text-anchor="start" fill="#1c1c1c" >Temperature</text>
<line x1="64.8" y1="373.6" x2="115.2" y2="373.6" stroke="#1c1c1c" stroke-width="0.7"/>
<line x1="65.7" y1="379.6" x2="86.2" y2="379.6" stroke="#f0141e" stroke-width="1.5"/>
<text transform="translate(91.4,382.6) scale(1.060,1)" font-size="8.30" text-anchor="start" fill="#1c1c1c" >22 <tspan font-size="70%" dy="-2.4">&#176;</tspan><tspan dy="2.4">C</tspan></text>
<line x1="65.7" y1="392.6" x2="86.2" y2="392.6" stroke="#1212e6" stroke-width="1.5"/>
<text transform="translate(91.4,395.6) scale(1.060,1)" font-size="8.30" text-anchor="start" fill="#1c1c1c" >40 <tspan font-size="70%" dy="-2.4">&#176;</tspan><tspan dy="2.4">C</tspan></text>
<line x1="65.7" y1="405.4" x2="86.2" y2="405.4" stroke="#10f010" stroke-width="1.5"/>
<text transform="translate(91.4,408.4) scale(1.060,1)" font-size="8.30" text-anchor="start" fill="#1c1c1c" >65 <tspan font-size="70%" dy="-2.4">&#176;</tspan><tspan dy="2.4">C</tspan></text>
</g>
<g id="panel-d">
<path d="M357.5,322.0 Q392,316.5 422.6,307 T518.4,267.7" fill="none" stroke="#1212e6" stroke-width="1.7" stroke-dasharray="2.2,2.7"/>
<path d="M357.2,322.3 L400.0,322.3 L430.0,322.4 L451.8,323.6 L469.3,325.6 L477.3,327.6 L482.5,331.0 L487.0,335.6 L491.5,340.2 L495.6,345.0 L499.2,350.4 L502.2,356.0 L504.6,362.4 L506.4,369.0 L507.8,376.0 L508.7,383.0 L509.3,391.4 L508.4,400.0" fill="none" stroke="#f0141e" stroke-width="1.7" stroke-dasharray="2.2,2.7" stroke-linejoin="round"/>
<circle cx="356.9" cy="322.3" r="3.3" fill="#f0141e"/>
<circle cx="477.4" cy="326.4" r="3.3" fill="#f0141e"/>
<circle cx="507.5" cy="400.2" r="3.3" fill="#f0141e"/>
<rect x="350.7" y="317.0" width="6.2" height="6.2" fill="#1212e6"/>
<rect x="419.5" y="303.9" width="6.2" height="6.2" fill="#1212e6"/>
<rect x="515.3" y="264.6" width="6.2" height="6.2" fill="#1212e6"/>
<rect x="327.3" y="248.3" width="209.7" height="171.8" fill="none" stroke="#3a3a3a" stroke-width="1.1"/>
<line x1="327.3" y1="420.1" x2="327.3" y2="423.7" stroke="#3a3a3a" stroke-width="0.9"/>
<line x1="357.3" y1="420.1" x2="357.3" y2="423.7" stroke="#3a3a3a" stroke-width="0.9"/>
<line x1="387.2" y1="420.1" x2="387.2" y2="423.7" stroke="#3a3a3a" stroke-width="0.9"/>
<line x1="417.2" y1="420.1" x2="417.2" y2="423.7" stroke="#3a3a3a" stroke-width="0.9"/>
<line x1="447.1" y1="420.1" x2="447.1" y2="423.7" stroke="#3a3a3a" stroke-width="0.9"/>
<line x1="477.1" y1="420.1" x2="477.1" y2="423.7" stroke="#3a3a3a" stroke-width="0.9"/>
<line x1="507.0" y1="420.1" x2="507.0" y2="423.7" stroke="#3a3a3a" stroke-width="0.9"/>
<line x1="537.0" y1="420.1" x2="537.0" y2="423.7" stroke="#3a3a3a" stroke-width="0.9"/>
<line x1="342.3" y1="420.1" x2="342.3" y2="421.9" stroke="#3a3a3a" stroke-width="0.9"/>
<line x1="372.2" y1="420.1" x2="372.2" y2="421.9" stroke="#3a3a3a" stroke-width="0.9"/>
<line x1="402.2" y1="420.1" x2="402.2" y2="421.9" stroke="#3a3a3a" stroke-width="0.9"/>
<line x1="432.1" y1="420.1" x2="432.1" y2="421.9" stroke="#3a3a3a" stroke-width="0.9"/>
<line x1="462.1" y1="420.1" x2="462.1" y2="421.9" stroke="#3a3a3a" stroke-width="0.9"/>
<line x1="492.1" y1="420.1" x2="492.1" y2="421.9" stroke="#3a3a3a" stroke-width="0.9"/>
<line x1="522.0" y1="420.1" x2="522.0" y2="421.9" stroke="#3a3a3a" stroke-width="0.9"/>
<line x1="346.4" y1="248.3" x2="346.4" y2="251.5" stroke="#3a3a3a" stroke-width="0.9"/>
<line x1="384.5" y1="248.3" x2="384.5" y2="251.5" stroke="#3a3a3a" stroke-width="0.9"/>
<line x1="422.6" y1="248.3" x2="422.6" y2="251.5" stroke="#3a3a3a" stroke-width="0.9"/>
<line x1="460.7" y1="248.3" x2="460.7" y2="251.5" stroke="#3a3a3a" stroke-width="0.9"/>
<line x1="498.9" y1="248.3" x2="498.9" y2="251.5" stroke="#3a3a3a" stroke-width="0.9"/>
<line x1="537.0" y1="248.3" x2="537.0" y2="251.5" stroke="#3a3a3a" stroke-width="0.9"/>
<line x1="365.4" y1="248.3" x2="365.4" y2="250.1" stroke="#3a3a3a" stroke-width="0.9"/>
<line x1="403.6" y1="248.3" x2="403.6" y2="250.1" stroke="#3a3a3a" stroke-width="0.9"/>
<line x1="441.7" y1="248.3" x2="441.7" y2="250.1" stroke="#3a3a3a" stroke-width="0.9"/>
<line x1="479.8" y1="248.3" x2="479.8" y2="250.1" stroke="#3a3a3a" stroke-width="0.9"/>
<line x1="517.9" y1="248.3" x2="517.9" y2="250.1" stroke="#3a3a3a" stroke-width="0.9"/>
<line x1="327.3" y1="248.3" x2="323.9" y2="248.3" stroke="#3a3a3a" stroke-width="0.9"/>
<line x1="327.3" y1="272.8" x2="323.9" y2="272.8" stroke="#3a3a3a" stroke-width="0.9"/>
<line x1="327.3" y1="297.4" x2="323.9" y2="297.4" stroke="#3a3a3a" stroke-width="0.9"/>
<line x1="327.3" y1="321.9" x2="323.9" y2="321.9" stroke="#3a3a3a" stroke-width="0.9"/>
<line x1="327.3" y1="346.5" x2="323.9" y2="346.5" stroke="#3a3a3a" stroke-width="0.9"/>
<line x1="327.3" y1="371.0" x2="323.9" y2="371.0" stroke="#3a3a3a" stroke-width="0.9"/>
<line x1="327.3" y1="395.6" x2="323.9" y2="395.6" stroke="#3a3a3a" stroke-width="0.9"/>
<line x1="327.3" y1="420.1" x2="323.9" y2="420.1" stroke="#3a3a3a" stroke-width="0.9"/>
<line x1="327.3" y1="260.6" x2="325.4" y2="260.6" stroke="#3a3a3a" stroke-width="0.9"/>
<line x1="327.3" y1="285.1" x2="325.4" y2="285.1" stroke="#3a3a3a" stroke-width="0.9"/>
<line x1="327.3" y1="309.7" x2="325.4" y2="309.7" stroke="#3a3a3a" stroke-width="0.9"/>
<line x1="327.3" y1="334.2" x2="325.4" y2="334.2" stroke="#3a3a3a" stroke-width="0.9"/>
<line x1="327.3" y1="358.7" x2="325.4" y2="358.7" stroke="#3a3a3a" stroke-width="0.9"/>
<line x1="327.3" y1="383.3" x2="325.4" y2="383.3" stroke="#3a3a3a" stroke-width="0.9"/>
<line x1="327.3" y1="407.8" x2="325.4" y2="407.8" stroke="#3a3a3a" stroke-width="0.9"/>
<text transform="translate(327.3,432.7) scale(1.060,1)" font-size="8.50" text-anchor="middle" fill="#1c1c1c" >0.5</text>
<text transform="translate(357.3,432.7) scale(1.060,1)" font-size="8.50" text-anchor="middle" fill="#1c1c1c" >0.0</text>
<text transform="translate(387.2,432.7) scale(1.060,1)" font-size="8.50" text-anchor="middle" fill="#1c1c1c" >-0.5</text>
<text transform="translate(417.2,432.7) scale(1.060,1)" font-size="8.50" text-anchor="middle" fill="#1c1c1c" >-1.0</text>
<text transform="translate(447.1,432.7) scale(1.060,1)" font-size="8.50" text-anchor="middle" fill="#1c1c1c" >-1.5</text>
<text transform="translate(477.1,432.7) scale(1.060,1)" font-size="8.50" text-anchor="middle" fill="#1c1c1c" >-2.0</text>
<text transform="translate(507.0,432.7) scale(1.060,1)" font-size="8.50" text-anchor="middle" fill="#1c1c1c" >-2.5</text>
<text transform="translate(537.0,432.7) scale(1.060,1)" font-size="8.50" text-anchor="middle" fill="#1c1c1c" >-3.0</text>
<text transform="translate(346.4,242.4) scale(1.060,1)" font-size="8.50" text-anchor="middle" fill="#1c1c1c" >20</text>
<text transform="translate(384.5,242.4) scale(1.060,1)" font-size="8.50" text-anchor="middle" fill="#1c1c1c" >30</text>
<text transform="translate(422.6,242.4) scale(1.060,1)" font-size="8.50" text-anchor="middle" fill="#1c1c1c" >40</text>
<text transform="translate(460.7,242.4) scale(1.060,1)" font-size="8.50" text-anchor="middle" fill="#1c1c1c" >50</text>
<text transform="translate(498.9,242.4) scale(1.060,1)" font-size="8.50" text-anchor="middle" fill="#1c1c1c" >60</text>
<text transform="translate(537.0,242.4) scale(1.060,1)" font-size="8.50" text-anchor="middle" fill="#1c1c1c" >70</text>
<text transform="translate(321.5,250.4) scale(1.060,1)" font-size="8.50" text-anchor="end" fill="#1c1c1c" >15</text>
<text transform="translate(321.5,274.9) scale(1.060,1)" font-size="8.50" text-anchor="end" fill="#1c1c1c" >10</text>
<text transform="translate(321.5,299.5) scale(1.060,1)" font-size="8.50" text-anchor="end" fill="#1c1c1c" >5</text>
<text transform="translate(321.5,324.0) scale(1.060,1)" font-size="8.50" text-anchor="end" fill="#1c1c1c" >0</text>
<text transform="translate(321.5,348.6) scale(1.060,1)" font-size="8.50" text-anchor="end" fill="#1c1c1c" >-5</text>
<text transform="translate(321.5,373.1) scale(1.060,1)" font-size="8.50" text-anchor="end" fill="#1c1c1c" >-10</text>
<text transform="translate(321.5,397.7) scale(1.060,1)" font-size="8.50" text-anchor="end" fill="#1c1c1c" >-15</text>
<text transform="translate(321.5,422.2) scale(1.060,1)" font-size="8.50" text-anchor="end" fill="#1c1c1c" >-20</text>
<text transform="translate(432.5,447.4) scale(1.060,1)" font-size="10.40" text-anchor="middle" fill="#1c1c1c" >V<tspan font-size="74%" dy="2.6">GS</tspan><tspan dy="-2.6"> (V)</tspan></text>
<text transform="translate(300.4,343.0) scale(1.140,1) rotate(-90)" font-size="11.00" text-anchor="middle" fill="#1c1c1c">&#916;R<tspan font-size="77%" dy="3.6">DS</tspan><tspan dy="-3.6">/R</tspan><tspan font-size="77%" dy="3.6">DS</tspan><tspan dy="-3.6"> (%)</tspan></text>
<text transform="translate(333.2,264.2) scale(1.060,1)" font-size="12.60" text-anchor="start" fill="#1c1c1c" >(d)</text>
<line x1="482.8" y1="277.5" x2="470.1" y2="256.8" stroke="#111" stroke-width="1.45"/>
<polygon points="466.7,251.4 472.9,256.3 468.3,259.1" fill="#111"/>
<line x1="499.4" y1="375.7" x2="483.9" y2="412.3" stroke="#111" stroke-width="1.45"/>
<polygon points="481.4,418.2 481.8,410.3 486.8,412.4" fill="#111"/>
<circle cx="353.9" cy="387.2" r="3.4" fill="#f0141e"/>
<rect x="351.1" y="398.2" width="6.6" height="6.6" fill="#1212e6"/>
<text transform="translate(366.2,389.9) scale(1.060,1)" font-size="8.25" text-anchor="start" fill="#1c1c1c" >AlGaN/GaN HFET</text>
<text transform="translate(366.9,404.0) scale(1.060,1)" font-size="8.25" text-anchor="start" fill="#1c1c1c" >VO<tspan font-size="72%" dy="2.0">2</tspan><tspan dy="-2.0"> Thin Film</tspan></text>
</g>
</svg>
</body></html>
